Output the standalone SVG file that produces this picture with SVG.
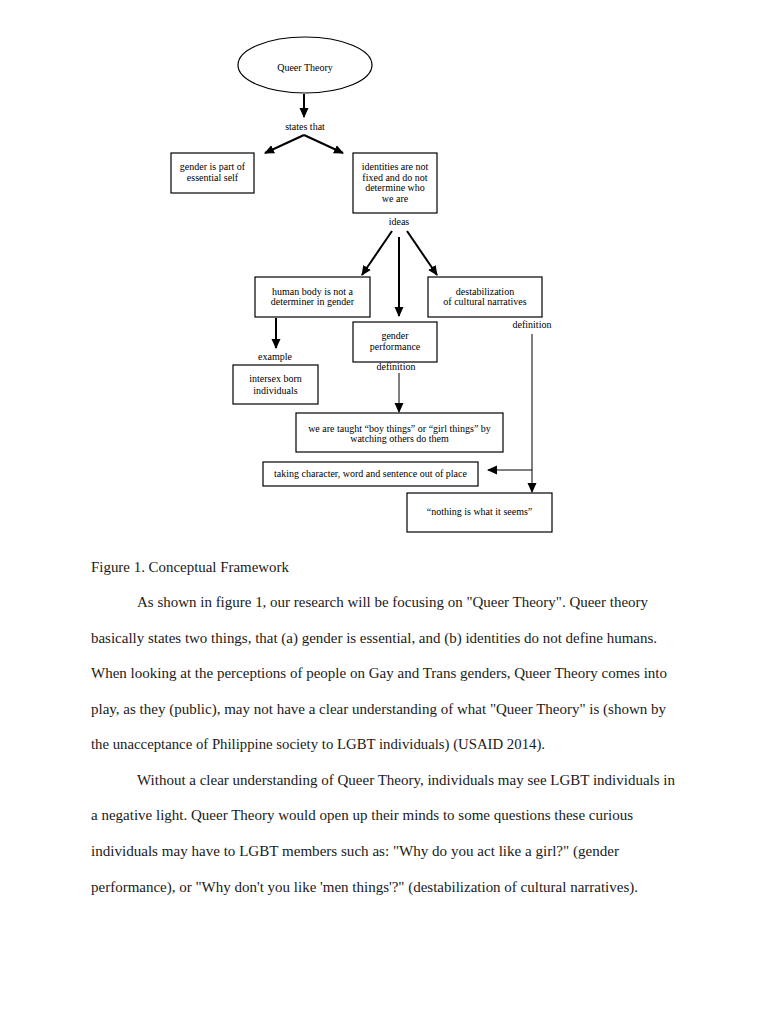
<svg xmlns="http://www.w3.org/2000/svg" width="768" height="1024" viewBox="0 0 768 1024">
<style>
.bg{fill:#fff}
.box{fill:#fff;stroke:#000;stroke-width:1.2}
.t{font-family:"Liberation Serif","Times New Roman",serif;font-size:10px;fill:#000;text-anchor:middle}
.body{font-family:"Liberation Serif","Times New Roman",serif;font-size:15px;fill:#1a1a1a}
.thick{stroke:#000;stroke-width:2;fill:none}
.thin{stroke:#000;stroke-width:1;fill:none}
</style>
<defs>
<marker id="ah" markerUnits="userSpaceOnUse" markerWidth="10" markerHeight="10" viewBox="0 0 10 10" refX="9" refY="5" orient="auto">
<path d="M0,0.5 L10,5 L0,9.5 Z" fill="#000"/>
</marker>
</defs>
<rect class="bg" x="0" y="0" width="768" height="1024"/>

<g id="connectors">
<line class="thick" x1="304" y1="94" x2="304" y2="117" marker-end="url(#ah)"/>
<line class="thick" x1="304" y1="135" x2="265" y2="153" marker-end="url(#ah)"/>
<line class="thick" x1="304" y1="135" x2="343" y2="153" marker-end="url(#ah)"/>
<line class="thick" x1="392" y1="231" x2="362" y2="275" marker-end="url(#ah)"/>
<line class="thick" x1="399" y1="237" x2="399" y2="316" marker-end="url(#ah)"/>
<line class="thick" x1="407" y1="231" x2="437" y2="275" marker-end="url(#ah)"/>
<line class="thick" x1="276" y1="318" x2="276" y2="348" marker-end="url(#ah)"/>
<line class="thin" x1="399" y1="373" x2="399" y2="412" marker-end="url(#ah)"/>
<line class="thin" x1="532" y1="334" x2="532" y2="492" marker-end="url(#ah)"/>
<line class="thin" x1="532" y1="470" x2="488" y2="470" marker-end="url(#ah)"/>
</g>

<g id="queer-theory">
<ellipse class="box" cx="305" cy="65" rx="67" ry="28"/>
<text class="t" x="305" y="71">Queer Theory</text>
</g>
<g id="states-that"><text class="t" x="305" y="130">states that</text></g>

<g id="gender-essential">
<rect class="box" x="171" y="153" width="83" height="40"/>
<text class="t" x="212.5" y="170">gender is part of</text>
<text class="t" x="212.5" y="181">essential self</text>
</g>

<g id="identities">
<rect class="box" x="353" y="153" width="84" height="60"/>
<text class="t" x="395" y="170">identities are not</text>
<text class="t" x="395" y="181">fixed and do not</text>
<text class="t" x="395" y="191">determine who</text>
<text class="t" x="395" y="202">we are</text>
</g>
<g id="ideas"><text class="t" x="399" y="225">ideas</text></g>

<g id="human-body">
<rect class="box" x="255" y="277" width="115" height="40"/>
<text class="t" x="312.5" y="295">human body is not a</text>
<text class="t" x="312.5" y="305">determiner in gender</text>
</g>

<g id="destabilization">
<rect class="box" x="428" y="277" width="114" height="40"/>
<text class="t" x="485" y="295">destabilization</text>
<text class="t" x="485" y="305">of cultural narratives</text>
</g>
<g id="definition-right"><text class="t" x="532" y="328">definition</text></g>

<g id="gender-performance">
<rect class="box" x="353" y="322" width="84" height="40"/>
<text class="t" x="395" y="339">gender</text>
<text class="t" x="395" y="350">performance</text>
</g>
<g id="definition-mid"><text class="t" x="396" y="370">definition</text></g>
<g id="example"><text class="t" x="275" y="360">example</text></g>

<g id="intersex">
<rect class="box" x="233" y="365" width="85" height="39"/>
<text class="t" x="275.5" y="382">intersex born</text>
<text class="t" x="275.5" y="394">individuals</text>
</g>

<g id="taught">
<rect class="box" x="296" y="413" width="207" height="39"/>
<text class="t" x="399.5" y="432">we are taught “boy things” or “girl things” by</text>
<text class="t" x="399.5" y="442">watching others do them</text>
</g>

<g id="taking">
<rect class="box" x="263" y="462" width="215" height="24"/>
<text class="t" x="370.5" y="477">taking character, word and sentence out of place</text>
</g>

<g id="nothing">
<rect class="box" x="407" y="493" width="145" height="39"/>
<text class="t" x="479.5" y="515">“nothing is what it seems”</text>
</g>

<g id="body-text">
<text class="body" x="91" y="572" textLength="198" lengthAdjust="spacingAndGlyphs">Figure 1. Conceptual Framework</text>
<text class="body" x="137" y="607" textLength="511" lengthAdjust="spacingAndGlyphs">As shown in figure 1, our research will be focusing on "Queer Theory". Queer theory</text>
<text class="body" x="91" y="642.5" textLength="566" lengthAdjust="spacingAndGlyphs">basically states two things, that (a) gender is essential, and (b) identities do not define humans.</text>
<text class="body" x="91" y="678" textLength="576" lengthAdjust="spacingAndGlyphs">When looking at the perceptions of people on Gay and Trans genders, Queer Theory comes into</text>
<text class="body" x="91" y="713.5" textLength="575" lengthAdjust="spacingAndGlyphs">play, as they (public), may not have a clear understanding of what "Queer Theory" is (shown by</text>
<text class="body" x="91" y="749" textLength="454" lengthAdjust="spacingAndGlyphs">the unacceptance of Philippine society to LGBT individuals) (USAID 2014).</text>
<text class="body" x="137" y="784.5" textLength="538" lengthAdjust="spacingAndGlyphs">Without a clear understanding of Queer Theory, individuals may see LGBT individuals in</text>
<text class="body" x="91" y="820" textLength="542" lengthAdjust="spacingAndGlyphs">a negative light. Queer Theory would open up their minds to some questions these curious</text>
<text class="body" x="91" y="856" textLength="528" lengthAdjust="spacingAndGlyphs">individuals may have to LGBT members such as: "Why do you act like a girl?" (gender</text>
<text class="body" x="91" y="891.5" textLength="547" lengthAdjust="spacingAndGlyphs">performance), or "Why don't you like 'men things'?" (destabilization of cultural narratives).</text>
</g>
</svg>
